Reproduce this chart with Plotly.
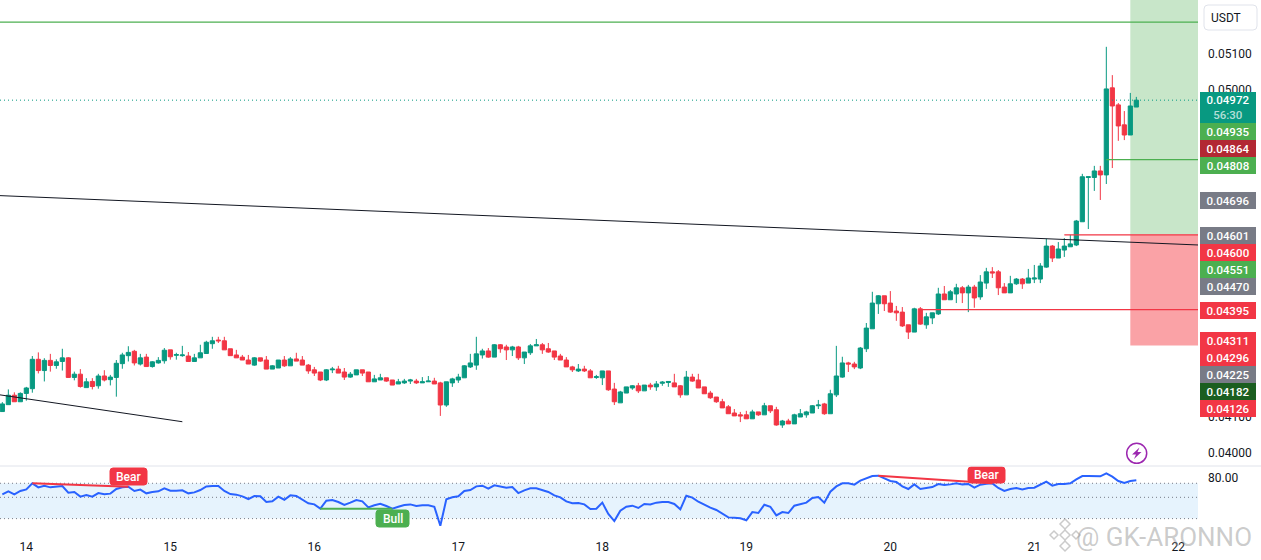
import pandas as pd
import plotly.graph_objects as go

# precos em unidades de 0.00001 USDT, velas de 1h
START = "2025-08-13 20:00"

opens = [4114, 4133, 4159, 4141, 4164, 4177, 4258, 4227, 4255, 4241, 4252, 4262, 4208, 4217, 4180, 4197, 4185, 4212, 4202, 4208,
         4246, 4268, 4280, 4245, 4264, 4238, 4248, 4254, 4284, 4269, 4268, 4267, 4252, 4262, 4274, 4301, 4311, 4309, 4287, 4270,
         4264, 4256, 4242, 4262, 4256, 4231, 4234, 4256, 4240, 4259, 4256, 4242, 4229, 4223, 4201, 4229, 4231, 4223, 4209, 4215,
         4229, 4223, 4196, 4201, 4207, 4201, 4190, 4193, 4198, 4198, 4193, 4196, 4198, 4193, 4132, 4193, 4201, 4207, 4237, 4242,
         4270, 4281, 4264, 4298, 4292, 4284, 4292, 4262, 4276, 4295, 4298, 4287, 4281, 4267, 4256, 4237, 4226, 4231, 4226, 4208,
         4207, 4226, 4176, 4138, 4165, 4179, 4185, 4171, 4187, 4182, 4192, 4194, 4193, 4185, 4160, 4209, 4201, 4182, 4165, 4154,
         4141, 4127, 4110, 4105, 4105, 4094, 4113, 4105, 4130, 4119, 4077, 4088, 4080, 4099, 4105, 4110, 4130, 4135, 4108, 4160,
         4209, 4248, 4245, 4234, 4287, 4342, 4411, 4433, 4413, 4391, 4388, 4353, 4333, 4397, 4353, 4372, 4383, 4438, 4422, 4438,
         4455, 4441, 4457, 4430, 4468, 4499, 4499, 4457, 4441, 4466, 4479, 4468, 4479, 4479, 4512, 4570, 4537, 4559, 4568, 4573,
         4637, 4759, 4759, 4777, 4766, 5006, 4959, 4904, 4876, 4953]
highs = [4140, 4175, 4167, 4167, 4182, 4267, 4277, 4261, 4273, 4258, 4287, 4264, 4224, 4231, 4206, 4206, 4218, 4228, 4215, 4256,
         4276, 4294, 4284, 4273, 4273, 4253, 4264, 4289, 4284, 4276, 4295, 4278, 4273, 4298, 4309, 4320, 4320, 4320, 4287, 4284,
         4270, 4270, 4264, 4262, 4267, 4242, 4256, 4267, 4264, 4276, 4267, 4245, 4237, 4223, 4231, 4237, 4240, 4234, 4223, 4229,
         4229, 4223, 4215, 4218, 4207, 4201, 4204, 4204, 4204, 4204, 4209, 4212, 4207, 4196, 4196, 4207, 4218, 4242, 4273, 4320,
         4287, 4289, 4300, 4300, 4298, 4295, 4295, 4278, 4300, 4314, 4303, 4303, 4281, 4273, 4264, 4240, 4245, 4240, 4231, 4215,
         4226, 4226, 4193, 4171, 4182, 4187, 4193, 4187, 4193, 4198, 4198, 4198, 4218, 4187, 4226, 4218, 4218, 4182, 4171, 4154,
         4149, 4132, 4121, 4113, 4116, 4119, 4113, 4138, 4130, 4127, 4091, 4094, 4108, 4121, 4116, 4132, 4146, 4138, 4174, 4295,
         4265, 4251, 4251, 4292, 4358, 4444, 4435, 4433, 4446, 4405, 4402, 4353, 4400, 4402, 4386, 4386, 4455, 4460, 4449, 4466,
         4460, 4463, 4463, 4490, 4510, 4512, 4504, 4468, 4488, 4482, 4482, 4507, 4518, 4523, 4590, 4573, 4581, 4592, 4601, 4642,
         4769, 4761, 4791, 4791, 5119, 5041, 4964, 4942, 4992, 4981]
lows = [4114, 4133, 4141, 4141, 4144, 4166, 4219, 4197, 4224, 4232, 4227, 4208, 4200, 4180, 4180, 4175, 4177, 4197, 4186, 4155,
        4232, 4252, 4241, 4241, 4238, 4235, 4246, 4246, 4257, 4257, 4265, 4252, 4252, 4262, 4274, 4287, 4303, 4284, 4268, 4262,
        4256, 4245, 4240, 4251, 4231, 4231, 4234, 4237, 4240, 4253, 4242, 4218, 4212, 4198, 4198, 4220, 4220, 4201, 4207, 4215,
        4212, 4196, 4196, 4201, 4196, 4187, 4190, 4190, 4190, 4190, 4193, 4196, 4190, 4102, 4127, 4182, 4193, 4207, 4234, 4229,
        4260, 4262, 4264, 4276, 4256, 4267, 4256, 4245, 4270, 4295, 4273, 4276, 4256, 4256, 4237, 4223, 4223, 4223, 4207, 4204,
        4187, 4171, 4132, 4138, 4165, 4174, 4165, 4171, 4174, 4171, 4185, 4182, 4182, 4152, 4160, 4196, 4179, 4163, 4149, 4138,
        4124, 4108, 4102, 4085, 4094, 4094, 4102, 4105, 4110, 4075, 4069, 4080, 4080, 4099, 4097, 4110, 4121, 4105, 4108, 4154,
        4207, 4223, 4231, 4231, 4278, 4342, 4383, 4391, 4386, 4364, 4347, 4314, 4333, 4353, 4342, 4355, 4380, 4422, 4422, 4413,
        4413, 4388, 4400, 4422, 4452, 4482, 4435, 4441, 4441, 4463, 4452, 4468, 4468, 4468, 4510, 4526, 4537, 4540, 4568, 4570,
        4637, 4617, 4722, 4697, 4741, 4785, 4860, 4862, 4876, 4953]
closes = [4135, 4159, 4141, 4164, 4179, 4258, 4227, 4255, 4241, 4251, 4262, 4208, 4217, 4183, 4196, 4183, 4212, 4201, 4209, 4247,
          4270, 4277, 4248, 4262, 4238, 4251, 4255, 4283, 4265, 4271, 4270, 4252, 4262, 4276, 4305, 4309, 4309, 4284, 4268, 4262,
          4256, 4245, 4262, 4253, 4231, 4240, 4256, 4240, 4259, 4253, 4242, 4226, 4220, 4201, 4229, 4231, 4220, 4209, 4217, 4229,
          4220, 4196, 4204, 4207, 4198, 4187, 4196, 4198, 4201, 4193, 4196, 4198, 4190, 4132, 4196, 4204, 4209, 4240, 4248, 4273,
          4281, 4264, 4298, 4287, 4284, 4292, 4262, 4278, 4295, 4298, 4284, 4278, 4264, 4256, 4237, 4229, 4231, 4226, 4207, 4210,
          4226, 4174, 4141, 4168, 4182, 4185, 4171, 4187, 4182, 4190, 4195, 4197, 4182, 4160, 4209, 4198, 4179, 4163, 4152, 4141,
          4124, 4108, 4102, 4102, 4094, 4113, 4105, 4130, 4116, 4077, 4088, 4080, 4105, 4108, 4113, 4130, 4132, 4108, 4163, 4212,
          4248, 4245, 4237, 4289, 4344, 4413, 4433, 4411, 4388, 4386, 4350, 4333, 4397, 4355, 4375, 4386, 4438, 4422, 4444, 4455,
          4441, 4457, 4427, 4471, 4499, 4496, 4455, 4441, 4466, 4479, 4466, 4482, 4482, 4515, 4570, 4537, 4562, 4570, 4576, 4639,
          4761, 4761, 4777, 4766, 5003, 4956, 4901, 4876, 4956, 4972]

rsi = [53.7, 57.7, 53.7, 58.2, 60.5, 69.9, 63.5, 66.1, 63.5, 64.5, 65.6, 55.9, 56.8, 50.8, 52.8, 50.8, 55.4, 53.7, 54.6, 61.0,
       63.5, 64.5, 58.2, 60.1, 55.0, 56.8, 57.7, 62.0, 58.6, 58.6, 59.1, 55.0, 56.3, 59.6, 65.0, 65.6, 65.6, 58.2, 54.1, 53.3,
       51.2, 48.0, 51.6, 51.2, 44.7, 45.4, 50.8, 47.2, 52.4, 51.6, 47.6, 43.3, 42.2, 38.1, 46.1, 46.9, 44.7, 41.6, 44.0, 46.9,
       45.4, 39.3, 41.3, 42.9, 40.6, 38.1, 39.9, 41.6, 42.2, 40.6,
       41.3, 41.3, 39.9, 25.3, 47.6, 50.0, 51.2, 58.2, 59.6, 65.0, 66.1, 61.5, 66.6, 65.0, 63.0, 64.0, 55.4, 59.1, 62.0, 62.0,
       59.1, 56.8, 52.4, 50.0, 45.4, 43.3, 43.6, 42.2, 37.8, 38.1, 44.0, 33.5, 28.3, 36.3, 39.9, 40.9, 38.7, 42.6, 42.2, 44.0,
       44.7, 44.7, 42.6, 37.5, 52.0, 49.6, 45.0, 41.6, 39.0, 36.9, 33.8, 30.9, 30.7, 30.2, 28.8, 35.1, 34.3, 41.9, 39.9, 32.4,
       35.1, 34.3, 40.9, 42.2, 44.0, 49.2, 50.4, 44.0, 57.2, 65.0,
       69.9, 69.9, 67.7, 74.5, 78.8, 83.3, 84.0, 78.8, 73.9, 72.2, 65.0, 61.0, 68.2, 61.0, 63.0, 64.0, 68.8, 67.2, 68.2, 69.9,
       68.2, 68.8, 63.0, 67.7, 69.3, 69.9, 62.5, 58.2, 61.0, 62.5, 60.5, 62.5, 63.0, 67.2, 72.7, 66.1, 68.8, 68.8, 69.9, 76.9,
       83.3, 83.3, 83.3, 82.7, 88.6, 82.0, 73.9, 70.4, 73.9, 75.1]

# etiquetas da escala de precos
tag_text = ["0.04935", "0.04864", "0.04808", "0.04696", "0.04601", "0.04600", "0.04551", "0.04470",
            "0.04395", "0.04311", "0.04296", "0.04225", "0.04182", "0.04126"]
tag_color = ["#4CAF50", "#B22833", "#4CAF50", "#787B86", "#787B86", "#F23645", "#4CAF50", "#787B86",
             "#F23645", "#F23645", "#F23645", "#787B86", "#1B5E20", "#F23645"]
tag_y = [131.5, 148.5, 165.5, 200.5, 235.5, 252.5, 269.5, 286.5, 310.5, 340.5, 357.5, 374.5, 391.5, 408.5]

# as outras marcas da escala ficam escondidas atras das etiquetas
price_ticks = [0.04, 0.041, 0.05, 0.051]

day_labels = ["14", "15", "16", "17", "18", "19", "20", "21", "22"]
day_ticks = ["2025-08-14", "2025-08-15", "2025-08-16", "2025-08-17", "2025-08-18",
             "2025-08-19", "2025-08-20", "2025-08-21", "2025-08-22"]

# niveis desenhados (unidades de 0.00001)
target_level = 5187
last_price = 4972
stop_line_level = 4395
entry_line_level = 4808
entry_level = 4601
stop_level = 4296
trend_1_prices = [4709, 4573]
trend_2_prices = [4160, 4086]

WIDTH = 1261
HEIGHT = 560
GREEN = "#089981"
RED = "#F23645"
FONT = "Roboto"
DOTS = "1px,3px"


def px_x(x):
    return x / WIDTH


def px_y(y):
    return 1 - y / HEIGHT


def price(values):
    return [v / 100000 for v in values]


dates = pd.date_range(START, periods=len(closes), freq="h")
t0 = pd.Timestamp("2025-08-14 00:00")
x_start = t0 - pd.Timedelta(hours=4.39)
x_end = t0 + pd.Timedelta(hours=195.28)
y_top = 0.05248
y_bottom = 0.03964

fig = go.Figure()

# zonas de alvo e stop
fig.add_shape(type="rect", xref="x", yref="y", x0=dates[188], x1=x_end, y0=entry_level / 100000, y1=y_top,
              fillcolor="#C8E6C9", line_width=0, layer="below")
fig.add_shape(type="rect", xref="x", yref="y", x0=dates[188], x1=x_end, y0=stop_level / 100000, y1=entry_level / 100000,
              fillcolor="#FAA2A6", line_width=0, layer="below")

fig.add_trace(go.Candlestick(
    x=dates, open=price(opens), high=price(highs), low=price(lows), close=price(closes),
    increasing=dict(line=dict(color=GREEN, width=1), fillcolor=GREEN),
    decreasing=dict(line=dict(color=RED, width=1), fillcolor=RED),
    whiskerwidth=0, xaxis="x", yaxis="y", showlegend=False,
))


def add_level(x0, x1, level, color, dash="solid", width=1.3):
    fig.add_trace(go.Scatter(x=[x0, x1], y=[level / 100000, level / 100000], mode="lines",
                             line=dict(color=color, width=width, dash=dash), xaxis="x", yaxis="y",
                             showlegend=False, hoverinfo="skip"))


add_level(x_start, x_end, target_level, "#4CAF50")
add_level(x_start, x_end, last_price, GREEN, DOTS, 1)
add_level(dates[184], x_end, entry_line_level, "#4CAF50")
add_level(dates[153], x_end, stop_line_level, RED)
add_level(dates[177], x_end, entry_level, RED)

fig.add_trace(go.Scatter(x=[x_start, x_end], y=price(trend_1_prices), mode="lines",
                         line=dict(color="#131722", width=1), xaxis="x", yaxis="y",
                         showlegend=False, hoverinfo="skip"))
fig.add_trace(go.Scatter(x=[x_start, dates[30]], y=price(trend_2_prices), mode="lines",
                         line=dict(color="#131722", width=1), xaxis="x", yaxis="y",
                         showlegend=False, hoverinfo="skip"))

# painel RSI
fig.add_shape(type="rect", xref="x2", yref="y2", x0=x_start, x1=x_end, y0=30, y1=70,
              fillcolor="#E6F3FD", line_width=0, layer="below")
for nivel in [70, 50, 30]:
    fig.add_trace(go.Scatter(x=[x_start, x_end], y=[nivel, nivel], mode="lines",
                             line=dict(color="#787B86", width=1, dash=DOTS), xaxis="x2", yaxis="y2",
                             showlegend=False, hoverinfo="skip"))

fig.add_trace(go.Scatter(x=dates, y=rsi, mode="lines", line=dict(color="#2962FF", width=2),
                         xaxis="x2", yaxis="y2", showlegend=False))

for i0, i1, v0, v1, cor in [(5, 21, 69.9, 64.5, RED), (53, 65, 38.1, 38.1, "#4CAF50"), (146, 165, 84.0, 69.9, RED)]:
    fig.add_trace(go.Scatter(x=[dates[i0], dates[i1]], y=[v0, v1], mode="lines",
                             line=dict(color=cor, width=2), xaxis="x2", yaxis="y2",
                             showlegend=False, hoverinfo="skip"))

annotations = []


def tag(text, x, y, w, h, bg, color="white", size=11.5):
    annotations.append(dict(text=text, xref="paper", yref="paper", x=px_x(x), y=px_y(y),
                            xanchor="left", yanchor="middle", width=w, height=h, bgcolor=bg,
                            showarrow=False, borderpad=0, borderwidth=0,
                            font=dict(family=FONT, size=size, color=color, weight=500)))


def rounded(x0, y0, x1, y1, r, fill, line_color=None):
    # retangulo arredondado em pixels da pagina
    def p(a, b):
        return f"{px_x(a)} {px_y(b)}"
    path = (f"M {p(x0 + r, y0)} L {p(x1 - r, y0)} Q {p(x1, y0)} {p(x1, y0 + r)} "
            f"L {p(x1, y1 - r)} Q {p(x1, y1)} {p(x1 - r, y1)} "
            f"L {p(x0 + r, y1)} Q {p(x0, y1)} {p(x0, y1 - r)} "
            f"L {p(x0, y0 + r)} Q {p(x0, y0)} {p(x0 + r, y0)} Z")
    fig.add_shape(type="path", xref="paper", yref="paper", path=path, fillcolor=fill,
                  line=dict(color=line_color or fill, width=1))


def label(text, x0, y0, x1, y1, fill):
    rounded(x0, y0, x1, y1, 3, fill)
    annotations.append(dict(text=text, xref="paper", yref="paper", x=px_x((x0 + x1) / 2), y=px_y((y0 + y1) / 2),
                            xanchor="center", yanchor="middle", showarrow=False,
                            font=dict(family=FONT, size=12, color="white", weight=500)))


for texto, cor, y in zip(tag_text, tag_color, tag_y):
    tag(texto, 1200, y, 56, 17, cor)

tag("0.04972<br><span style='color:rgba(255,255,255,0.7)'>56:30</span>", 1200, 107.5, 56, 31, GREEN)
label("Bear", 110, 468, 147, 485, RED)
label("Bull", 376, 510, 409, 527, "#4CAF50")
label("Bear", 968, 467, 1005, 483, RED)

rounded(1204, 5, 1257, 30, 4, "white", "#E0E3EB")
annotations.append(dict(text="USDT", xref="paper", yref="paper", x=px_x(1226), y=px_y(17.5), showarrow=False,
                        xanchor="center", yanchor="middle", font=dict(family=FONT, size=12, color="#131722")))
annotations.append(dict(text="@ GK-ARONNO", xref="paper", yref="paper", x=px_x(1254), y=px_y(537), showarrow=False,
                        xanchor="right", yanchor="middle",
                        font=dict(family=FONT, size=26, color="rgba(140,140,140,0.45)")))

fig.add_shape(type="line", xref="paper", yref="paper", x0=0, x1=1, y0=px_y(466), y1=px_y(466),
              line=dict(color="#E0E3EB", width=1))

# icone roxo
fig.add_shape(type="circle", xref="paper", yref="paper", x0=px_x(1126.7), x1=px_x(1146.7),
              y0=px_y(463.3), y1=px_y(443.3), line=dict(color="#9C27B0", width=1.5))
raio = [(1139.5, 447.5), (1132, 454.5), (1136, 454.5), (1134, 459), (1141.5, 452), (1137.5, 452)]
fig.add_shape(type="path", xref="paper", yref="paper", fillcolor="#9C27B0", line_width=0,
              path="M " + " L ".join(f"{px_x(a)} {px_y(b)}" for a, b in raio) + " Z")

# logo da marca d'agua
for cx, cy, r in [(1065, 524, 5), (1065, 546, 5), (1054, 535, 4), (1076, 535, 4), (1065, 535, 5)]:
    pts = [(cx, cy - r), (cx + r, cy), (cx, cy + r), (cx - r, cy)]
    fig.add_shape(type="path", xref="paper", yref="paper", line=dict(color="rgba(140,140,140,0.45)", width=1.5),
                  fillcolor="rgba(255,255,255,0)",
                  path="M " + " L ".join(f"{px_x(a)} {px_y(b)}" for a, b in pts) + " Z")

fig.update_layout(
    width=WIDTH, height=HEIGHT,
    margin=dict(l=0, r=0, t=0, b=0),
    paper_bgcolor="white", plot_bgcolor="white",
    font=dict(family=FONT, size=12, color="#131722"),
    annotations=annotations,
    hovermode=False,
    boxgap=0,
    xaxis=dict(domain=[0, 1198 / WIDTH], range=[x_start, x_end], anchor="y", showgrid=False, zeroline=False,
               showticklabels=False, ticks="", rangeslider=dict(visible=False), showline=False),
    xaxis2=dict(domain=[0, 1198 / WIDTH], range=[x_start, x_end], anchor="y2", matches="x", showgrid=False,
                zeroline=False, tickmode="array", tickvals=day_ticks, ticktext=day_labels, ticks="",
                ticklabelstandoff=3, showline=False),
    yaxis=dict(domain=[94 / HEIGHT, 1], range=[y_bottom, y_top], anchor="x", side="right", showgrid=False,
               zeroline=False, tickmode="array", tickvals=price_ticks,
               tickformat=".5f", ticks="", ticklabelstandoff=9, showline=False),
    yaxis2=dict(domain=[25 / HEIGHT, 93 / HEIGHT], type="log", range=[1.3065, 2.0147], anchor="x2", side="right",
                showgrid=False, zeroline=False, tickmode="array", tickvals=[80], ticktext=["80.00"], ticks="",
                ticklabelstandoff=9, showline=False),
)

# a pagina tem margem de 8px por padrao
fig.write_html("out.html", config={"displayModeBar": False},
               post_script="document.body.style.margin='0';document.body.style.overflow='hidden';")
